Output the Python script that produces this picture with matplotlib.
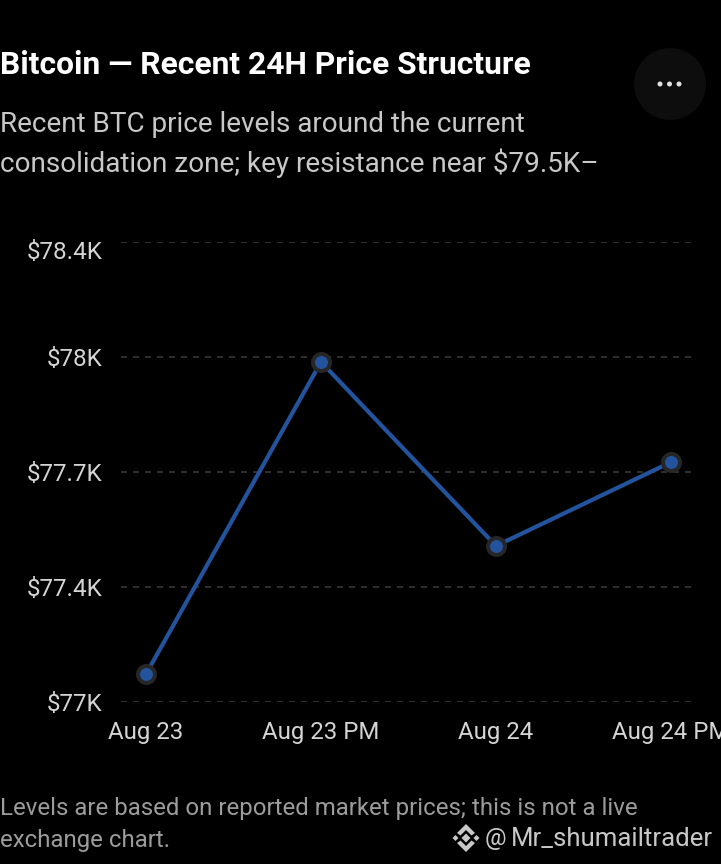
import matplotlib
matplotlib.use("Agg")
import matplotlib.pyplot as plt
from matplotlib.patches import Circle, Polygon
from matplotlib.transforms import ScaledTranslation

W, H = 721, 864
PX = 72 / 100  # points per pixel at dpi 100

dates = ["Aug 23", "Aug 23 PM", "Aug 24", "Aug 24 PM"]
prices = [77.085, 78.035, 77.475, 77.73]
y_ticks = [77.0, 77.35, 77.7, 78.05, 78.4]
y_labels = ["$77K", "$77.4K", "$77.7K", "$78K", "$78.4K"]

plt.rcParams["font.family"] = ["Roboto", "DejaVu Sans"]

fig = plt.figure(figsize=(W / 100, H / 100), dpi=100, facecolor="black")

ax = fig.add_axes([121 / W, 1 - 702 / H, (692 - 121) / W, (702 - 242) / H], facecolor="black")
ax.set_xlim(-25 / 175, 3 + 21 / 175)
ax.set_ylim(77.0, 78.4)

ax.plot(
    range(len(dates)),
    prices,
    color="#23539c",
    linewidth=4.2 * PX,
    marker="o",
    markersize=17 * PX,
    markerfacecolor="#23539c",
    markeredgecolor="#262626",
    markeredgewidth=4 * PX,
    clip_on=False,
    zorder=3,
)

ax.set_xticks(range(len(dates)), dates)
ax.set_yticks(y_ticks, y_labels)
ax.tick_params(axis="x", length=0, pad=19 * PX, labelsize=24 * PX, labelcolor="#d4d4d4")
ax.tick_params(axis="y", length=0, pad=18.5 * PX, labelsize=24.2 * PX, labelcolor="#d4d4d4")
ax.grid(axis="y", color="#2e2e2e", linewidth=2 * PX, linestyle=(0, (3, 3)))
ax.set_axisbelow(True)
for spine in ax.spines.values():
    spine.set_visible(False)

# top label sits a bit lower than its grid line
top = ax.get_yticklabels()[-1]
top.set_transform(top.get_transform() + ScaledTranslation(0, -8 / 100, fig.dpi_scale_trans))

# overlay in pixel coordinates for header, footer and the menu button
ov = fig.add_axes([0, 0, 1, 1], facecolor="none")
ov.set_xlim(0, W)
ov.set_ylim(H, 0)
ov.axis("off")

ov.text(0.5, 65, "Bitcoin — Recent 24H Price Structure", color="white", fontsize=31.8 * PX,
        fontweight="bold", va="center", ha="left")
ov.text(0, 124, "Recent BTC price levels around the current", color="#c8c8c8",
        fontsize=27.95 * PX, va="center", ha="left")
ov.text(0, 163, "consolidation zone; key resistance near $79.5K–", color="#c8c8c8",
        fontsize=27.95 * PX, va="center", ha="left")
ov.text(0, 809, "Levels are based on reported market prices; this is not a live", color="#9c9c9c",
        fontsize=24 * PX, va="center", ha="left")
ov.text(0, 841, "exchange chart.", color="#9c9c9c", fontsize=24 * PX, va="center", ha="left")

# menu button
ov.add_patch(Circle((670, 84), 36, facecolor="#0d0d0d", edgecolor="none"))
for cx in [660, 669.5, 679]:
    ov.add_patch(Circle((cx, 84), 2.5, facecolor="#e0e0e0", edgecolor="none"))

# watermark
logo = "#c8c8c8"
lx, ly = 466, 838
ov.add_patch(Polygon([(lx - 4.5, ly), (lx, ly - 4.5), (lx + 4.5, ly), (lx, ly + 4.5)], closed=True, facecolor=logo))
for dx in [-10.5, 10.5]:
    ov.add_patch(Polygon([(lx + dx - 3, ly), (lx + dx, ly - 3), (lx + dx + 3, ly), (lx + dx, ly + 3)],
                         closed=True, facecolor=logo))
ov.add_patch(Polygon([(lx - 9, ly - 5), (lx, ly - 14), (lx + 9, ly - 5), (lx + 5.5, ly - 2.5), (lx, ly - 8), (lx - 5.5, ly - 2.5)],
                     closed=True, facecolor=logo))
ov.add_patch(Polygon([(lx - 9, ly + 5), (lx, ly + 14), (lx + 9, ly + 5), (lx + 5.5, ly + 2.5), (lx, ly + 8), (lx - 5.5, ly + 2.5)],
                     closed=True, facecolor=logo))
ov.text(485, 839, "@", color="#c8c8c8", fontsize=24 * PX, va="center", ha="left")
ov.text(511, 839, "Mr_shumailtrader", color="#c8c8c8", fontsize=25.7 * PX, va="center", ha="left")

fig.savefig("out.png", dpi=100, facecolor="black")
